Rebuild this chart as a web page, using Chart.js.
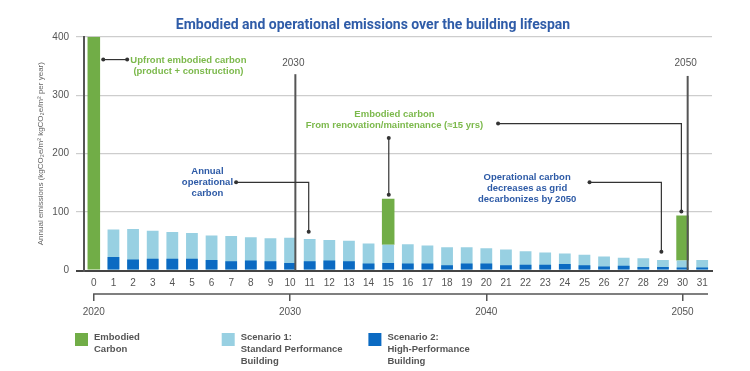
<!DOCTYPE html>
<html><head><meta charset="utf-8">
<script src="https://cdn.jsdelivr.net/npm/chart.js@4/dist/chart.umd.min.js"></script>
<style>html,body{margin:0;padding:0;background:#fff;}#wrap{width:750px;height:371px;position:relative;}</style>
</head><body><div id="wrap"><canvas id="c" width="750" height="371"></canvas></div>
<script>
// ---------- data ----------
const categories = ['0','1','2','3','4','5','6','7','8','9','10','11','12','13','14','15','16','17','18','19','20','21','22','23','24','25','26','27','28','29','30','31'];
// Scenario 1: Standard Performance Building (annual operational)
const scenario1 = [0,70,71,68,66,64,60,59,57,55,56,54,52,51,46,44,45,43,40,40,38,36,33,31,29,27,24,22,21,18,17,18];
// Scenario 2: High-Performance Building (annual operational)
const scenario2 = [0,23,19,20,20,20,18,16,17,16,13,16,17,16,12,13,12,12,9,12,12,9,10,10,11,9,7,8,6,6,5,5];
// Embodied carbon (upfront + renovations), sits on top of scenario 1
const embodied = [400,0,0,0,0,0,0,0,0,0,0,0,0,0,0,79,0,0,0,0,0,0,0,0,0,0,0,0,0,0,77,0];
const yTicks = [0,100,200,300,400];
const timelineYears = [2020,2030,2040,2050];
const timelineStart = 2020;
const seriesLabels = [['Embodied','Carbon'],['Scenario 1:','Standard Performance','Building'],['Scenario 2:','High-Performance','Building']];
const titleText = 'Embodied and operational emissions over the building lifespan';
const yTitle = 'Annual emissions (kgCO\u2082e/m\u00b2 kgCO\u2082e/m\u00b2 per year)';
const milestoneLabels = ['2030','2050'];

// ---------- styles ----------
const GREEN = '#71ad47', LIGHT = '#98d0e2', DARK = '#0b6ac2';
const GREEN_TXT = '#7cb94c', BLUE_TXT = '#2d5aa6', GRAY = '#555';
const FAM = '"Liberation Sans", Arial, sans-serif';

// annotations placed in data units (category index, value)
const milestones = [
  {label: milestoneLabels[0], at: 10.27, from: 336, labelAt: 354},
  {label: milestoneLabels[1], at: 30.26, from: 333, labelAt: 355}
];
const callouts = [
  {lines: ['Upfront embodied carbon','(product + construction)'], color: GREEN_TXT, cx: 4.82, cy: 351},
  {lines: ['Annual','operational','carbon'], color: BLUE_TXT, cx: 5.79, cy: 151},
  {lines: ['Embodied carbon','From renovation/maintenance (\u224815 yrs)'], color: GREEN_TXT, cx: 15.32, cy: 257},
  {lines: ['Operational carbon','decreases as grid','decarbonizes by 2050'], color: BLUE_TXT, cx: 22.08, cy: 141}
];
const connectors = [
  [[0.48,361],[1.7,361]],
  [[7.25,151],[10.95,151],[10.95,66.5]],
  [[15.03,227],[15.03,129.5]],
  [[20.6,251.5],[29.94,251.5],[29.94,101]],
  [[25.26,151],[28.92,151],[28.92,32]]
];

const annotationPlugin = {
  id: 'annot',
  afterDatasetsDraw(chart) {
    const ctx = chart.ctx, xs = chart.scales.x, ys = chart.scales.y, x2 = chart.scales.x2;
    const X = v => xs.getPixelForValue(v), Y = v => ys.getPixelForValue(v);
    ctx.save();
    milestones.forEach(m => {
      ctx.strokeStyle = GRAY; ctx.lineWidth = 2;
      ctx.beginPath(); ctx.moveTo(X(m.at), Y(m.from)); ctx.lineTo(X(m.at), Y(0)); ctx.stroke();
      ctx.fillStyle = GRAY; ctx.font = '10px ' + FAM; ctx.textAlign = 'center'; ctx.textBaseline = 'middle';
      ctx.fillText(m.label, X(m.at) - 2, Y(m.labelAt));
    });
    connectors.forEach(pts => {
      ctx.strokeStyle = '#333'; ctx.lineWidth = 1.2;
      ctx.beginPath();
      pts.forEach((p, i) => { const px = X(p[0]), py = Y(p[1]); i ? ctx.lineTo(px, py) : ctx.moveTo(px, py); });
      ctx.stroke();
      ctx.fillStyle = '#333';
      [pts[0], pts[pts.length - 1]].forEach(p => { ctx.beginPath(); ctx.arc(X(p[0]), Y(p[1]), 2, 0, Math.PI * 2); ctx.fill(); });
    });
    callouts.forEach(c => {
      ctx.fillStyle = c.color; ctx.font = 'bold 9.5px ' + FAM; ctx.textAlign = 'center'; ctx.textBaseline = 'middle';
      const lh = 11, n = c.lines.length, y0 = Y(c.cy) - (n - 1) * lh / 2;
      c.lines.forEach((t, i) => ctx.fillText(t, X(c.cx), y0 + i * lh));
    });
    // timeline line
    ctx.strokeStyle = GRAY; ctx.lineWidth = 1.5;
    ctx.beginPath(); ctx.moveTo(x2.getPixelForValue(timelineStart) - 0.75, x2.top); ctx.lineTo(x2.right - 4, x2.top); ctx.stroke();
    ctx.restore();
  },
  afterDraw(chart) {
    const ctx = chart.ctx, ca = chart.chartArea;
    ctx.save();
    chart.data.datasets.forEach((ds, i) => {
      const bx = ca.left - 9 + i * 146.7, by = 333;
      ctx.fillStyle = ds.backgroundColor; ctx.fillRect(bx, by, 13, 13);
      ctx.fillStyle = GRAY; ctx.font = 'bold 9.5px ' + FAM; ctx.textAlign = 'left'; ctx.textBaseline = 'middle';
      ds.label.forEach((t, j) => ctx.fillText(t, bx + 19, by + 4.5 + j * 11.7));
    });
    ctx.restore();
  }
};

new Chart(document.getElementById('c'), {
  type: 'bar',
  data: {
    labels: categories,
    datasets: [
      {label: seriesLabels[0], data: embodied.map((e, i) => e ? [scenario1[i], scenario1[i] + e] : null), backgroundColor: GREEN, order: 2, grouped: false, barPercentage: 0.64, categoryPercentage: 1},
      {label: seriesLabels[1], data: scenario1, backgroundColor: LIGHT, order: 1, grouped: false, barPercentage: 0.6, categoryPercentage: 1},
      {label: seriesLabels[2], data: scenario2, backgroundColor: DARK, order: 0, grouped: false, barPercentage: 0.6, categoryPercentage: 1}
    ]
  },
  options: {
    responsive: false, animation: false,
    layout: {padding: {left: 34, right: 38, top: 0, bottom: 50}},
    plugins: {
      legend: {display: false}, tooltip: {enabled: false},
      title: {display: true, text: titleText, color: '#2f5ca8', font: {family: 'Roboto', size: 14, weight: 'bold'}, padding: {top: 17, bottom: 3}}
    },
    scales: {
      x: {
        type: 'category', offset: true, position: 'bottom', weight: 0,
        grid: {display: false, drawTicks: false},
        border: {display: true, color: '#444', width: 2},
        ticks: {color: GRAY, font: {family: FAM, size: 10}, padding: 7, autoSkip: false, maxRotation: 0},
        afterFit: s => { s.height = 23.5; }
      },
      x2: {
        type: 'linear', position: 'bottom', weight: 1, offset: false,
        min: timelineStart - 0.5, max: timelineStart + categories.length - 0.5,
        afterBuildTicks: s => { s.ticks = timelineYears.map(v => ({value: v})); },
        grid: {offset: false, drawOnChartArea: false, drawTicks: true, tickLength: 7, color: GRAY, lineWidth: 1.5},
        border: {display: false},
        ticks: {color: GRAY, font: {family: FAM, size: 10}, padding: 5, autoSkip: false, maxRotation: 0, callback: v => String(v)},
        afterFit: s => { s.height = 27; }
      },
      y: {
        min: 0, max: 400,
        afterBuildTicks: s => { s.ticks = yTicks.map(v => ({value: v})); },
        grid: {color: c => c.tick && c.tick.value === 0 ? '#444' : '#cdcdcd', lineWidth: c => c.tick && c.tick.value === 0 ? 2 : 1.2, tickLength: 8},
        border: {display: true, color: GRAY, width: 2},
        ticks: {color: GRAY, font: {family: FAM, size: 10}, padding: 7},
        title: {display: true, text: yTitle, color: '#666', font: {family: FAM, size: 8}, padding: {top: 2, bottom: 0}},
        afterFit: s => { s.width = 50; }
      }
    }
  },
  plugins: [annotationPlugin]
});
</script></body></html>
